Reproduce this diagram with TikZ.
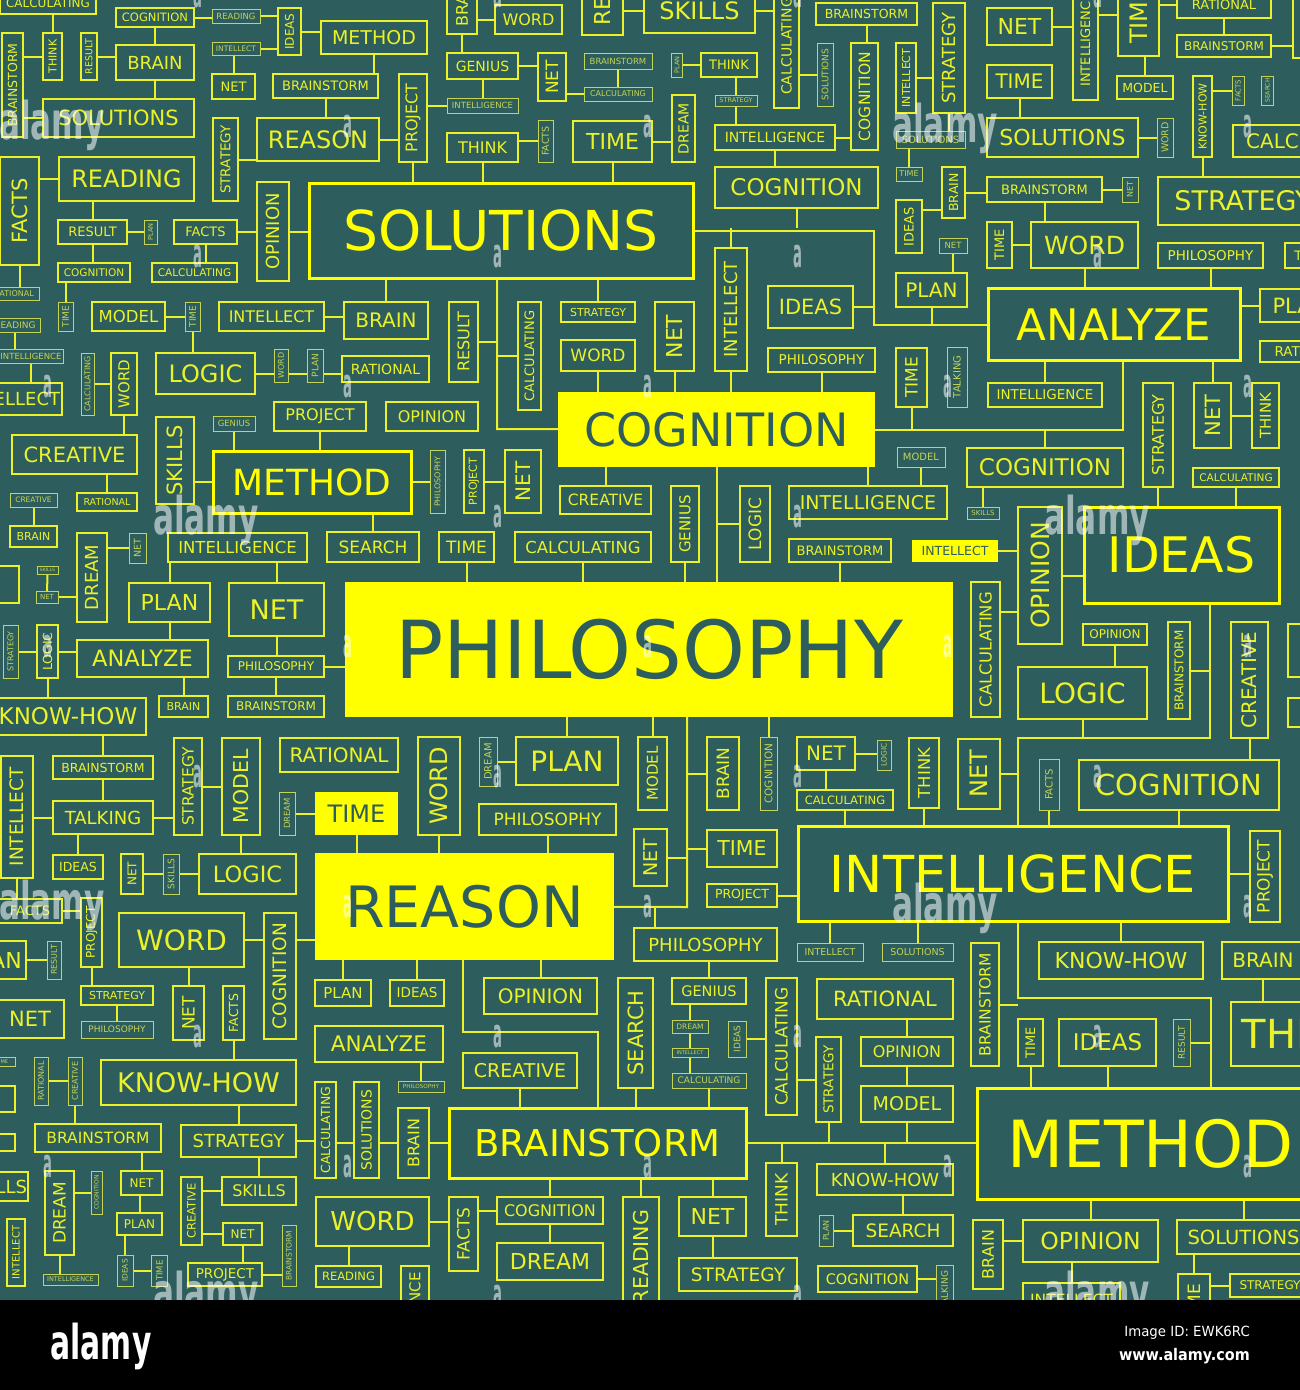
\documentclass[tikz,border=0pt]{standalone}
\usepackage{fontspec}
\setmainfont{DejaVu Sans}
\usepackage{tikz}
\definecolor{bg}{RGB}{45,93,93}
\definecolor{hiyel}{RGB}{255,255,0}
\definecolor{wline}{RGB}{236,242,40}
\definecolor{wdim}{RGB}{196,212,86}
\newcommand{\wsize}[1]{\fontsize{#1}{#1}\selectfont}
\pgfdeclarelayer{back}
\pgfdeclarelayer{links}
\pgfdeclarelayer{front}
\pgfsetlayers{back,links,main,front}
\tikzset{
  wordbox/.style = {draw=wline, fill=bg, text=wline, inner sep=0pt, outer sep=0pt},
  bigw/.style n args = {3}{wordbox, draw=hiyel, text=hiyel, line width=3pt,
    minimum width=#1, minimum height=#2, font=\wsize{#3}},
  midw/.style n args = {3}{wordbox, line width=2.2pt,
    minimum width=#1, minimum height=#2, font=\wsize{#3}},
  smw/.style n args = {3}{wordbox, line width=1.6pt,
    minimum width=#1, minimum height=#2, font=\wsize{#3}},
  tinyw/.style n args = {3}{wordbox, draw=wdim, text=wdim, line width=1pt,
    minimum width=#1, minimum height=#2, font=\wsize{#3}},
  hiw/.style n args = {3}{fill=hiyel, text=bg, inner sep=0pt, outer sep=0pt,
    minimum width=#1, minimum height=#2, font=\wsize{#3}},
  upw/.style = {rotate=90},
  wire/.style = {draw=wline, line width=2pt},
  wmark/.style = {text=white, text opacity=0.55, inner sep=0pt,
    font=\bfseries\wsize{52}, xscale=0.6},
  wsmall/.style = {wmark, font=\bfseries\wsize{40}, xscale=0.55}
}

\begin{document}
\begin{tikzpicture}[x=1pt, y=-1pt]
  \useasboundingbox (0,0) rectangle (1300,1390);
  \begin{pgfonlayer}{back}
    \fill[bg] (0,0) rectangle (1300,1300);
  \end{pgfonlayer}

  % top band
  \node[smw={96}{22}{12}] (calcA) at (48,3) {CALCULATING};
  \node[smw={78}{19}{11.5}] (cogA) at (155,17.5) {COGNITION};
  \node[tinyw={48}{14}{8.5}] (readA) at (236,16) {READING};
  \node[smw={47}{23}{12}, upw] (ideasA) at (289.5,31.5) {IDEAS};
  \node[tinyw={48}{13}{7.5}] (intelA) at (236,48.5) {INTELLECT};
  \node[smw={43}{25}{13}] (netA) at (233.5,86.5) {NET};
  \node[midw={78}{35}{18}] (brainA) at (155,62.5) {BRAIN};
  \node[smw={47}{19}{11}, upw] (thinkA) at (52.5,56.5) {THINK};
  \node[smw={47}{16}{9.5}, upw] (resultA) at (89,56.5) {RESULT};
  \node[smw={104}{21}{12.5}, upw] (bstormA) at (12.5,85) {BRAINSTORM};
  \node[midw={151}{38}{21}] (solA) at (118.5,118) {SOLUTIONS};
  \node[midw={106}{33}{19}] (methodA) at (374,37.5) {METHOD};
  \node[smw={105}{24}{13}] (bstormB) at (325.5,86) {BRAINSTORM};
  \node[midw={122}{43}{24}] (reasonA) at (318,139.5) {REASON};
  \node[smw={83}{25}{13.5}, upw] (stratA) at (225.5,159.5) {STRATEGY};
  \node[midw={88}{28}{16}, upw] (projA) at (413,118) {PROJECT};
  \node[smw={64}{30}{16}, upw] (brainB) at (462,2) {BRAIN};
  \node[smw={67}{29}{16}] (wordA) at (528.5,19.5) {WORD};
  \node[smw={71}{26}{14}] (geniusA) at (482.5,66) {GENIUS};
  \node[midw={48}{28}{17}, upw] (netB) at (552,77) {NET};
  \node[tinyw={68}{16}{8.5}] (bstormC) at (618,61) {BRAINSTORM};
  \node[tinyw={68}{14}{8}] (calcB) at (618,94) {CALCULATING};
  \node[tinyw={24}{11}{6.5}, upw] (planA) at (677,65) {PLAN};
  \node[tinyw={71}{15}{8.5}] (intgA) at (482.5,105.5) {INTELLIGENCE};
  \node[smw={71}{29}{16}] (thinkB) at (482.5,147.5) {THINK};
  \node[tinyw={42}{15}{9.5}, upw] (factsA) at (545.5,141) {FACTS};
  \node[midw={79}{41}{22}] (timeA) at (612.5,141.5) {TIME};
  \node[smw={67}{23}{14}, upw] (dreamA) at (683.5,128.5) {DREAM};
  \node[midw={110}{41}{22}, upw] (reasonB) at (602.5,-20) {REASON};
  \node[midw={111}{44}{24}] (skillsA) at (699.5,11) {SKILLS};
  \node[smw={124}{25}{14}, upw] (calcC) at (786.5,46) {CALCULATING};
  \node[smw={101}{22}{12.5}] (bstormD) at (866.5,14) {BRAINSTORM};
  \node[smw={56}{24}{13}] (thinkC) at (729,65) {THINK};
  \node[tinyw={42}{11}{6.5}] (stratB) at (736,100.5) {STRATEGY};
  \node[tinyw={63}{16}{9}, upw] (solB) at (825,74.5) {SOLUTIONS};
  \node[smw={107}{27}{15.5}, upw] (cogB) at (864.5,96.5) {COGNITION};
  \node[smw={120}{25}{14}] (intgB) at (775,137.5) {INTELLIGENCE};
  \node[midw={163}{41}{23}] (cogC) at (796.5,187.5) {COGNITION};
  \node[smw={70}{20}{11}, upw] (intelB) at (906,78) {INTELLECT};
  \node[midw={110}{32}{18}, upw] (stratC) at (949,58) {STRATEGY};
  \node[tinyw={69}{17}{10}] (solC) at (930.5,139.5) {SOLUTIONS};
  \node[tinyw={26}{14}{8}] (timeB) at (909,174) {TIME};
  \node[midw={65}{37}{22}] (netC) at (1019.5,26.5) {NET};
  \node[midw={65}{33}{20}] (timeC) at (1019.5,81.5) {TIME};
  \node[midw={151}{39}{22}] (solD) at (1062.5,137.5) {SOLUTIONS};
  \node[tinyw={39}{16}{9.5}, upw] (wordB) at (1165,137.5) {WORD};
  \node[smw={120}{25}{13}, upw] (intgC) at (1085.5,40) {INTELLIGENCE};
  \node[midw={82}{41}{24}, upw] (timeD) at (1138.5,15) {TIME};
  \node[smw={94}{26}{13}] (ratA) at (1224,5) {RATIONAL};
  \node[smw={94}{22}{12}] (bstormE) at (1224,46) {BRAINSTORM};
  \node[smw={56}{23}{12.5}] (modelA) at (1145,87.5) {MODEL};
  \node[smw={81}{19}{11}, upw] (knowA) at (1202.5,116.5) {KNOW-HOW};
  \node[tinyw={29}{12}{7}, upw] (factsB) at (1238,90.5) {FACTS};
  \node[tinyw={29}{12}{6}, upw] (searchA) at (1267.5,90.5) {SEARCH};
  \node[smw={60}{24}{12}, upw] (geniusB) at (1305,28) {GENIUS};
  \node[midw={166}{32}{20}] (calcD) at (1316,141) {CALCULATING};
  \node[midw={170}{48}{27}] (stratD) at (1243,201) {STRATEGY};
  \node[smw={115}{25}{13}] (bstormF) at (1044.5,189.5) {BRAINSTORM};
  \node[tinyw={25}{16}{8}, upw] (netD) at (1130,189.5) {NET};
  \node[smw={51}{23}{12.5}, upw] (brainC) at (953.5,192.5) {BRAIN};
  \node[smw={53}{26}{13}, upw] (ideasB) at (909,226.5) {IDEAS};
  \node[smw={46}{25}{13}, upw] (timeE) at (999.5,245) {TIME};
  \node[midw={107}{46}{25}] (wordC) at (1084.5,245) {WORD};
  \node[tinyw={28}{15}{8.5}] (netE) at (953,245.5) {NET};
  \node[midw={71}{34}{20}] (planB) at (931.5,290) {PLAN};
  \node[smw={105}{25}{13.5}] (philoA) at (1210.5,255.5) {PHILOSOPHY};
  \node[smw={50}{25}{13}] (timeF) at (1310,255.5) {TIME};

  % left column
  \node[midw={108}{39}{21}, upw] (factsC) at (19.5,211) {FACTS};
  \node[midw={135}{44}{24}] (readC) at (126.5,179) {READING};
  \node[smw={69}{24}{13}] (resultC) at (92.5,232) {RESULT};
  \node[tinyw={24}{13}{6.5}, upw] (planF) at (150.5,232) {PLAN};
  \node[smw={63}{24}{13}] (factsD) at (205.5,232) {FACTS};
  \node[midw={99}{32}{18}, upw] (opinD) at (273,231.5) {OPINION};
  \node[smw={85}{19}{10.5}] (calcJ) at (194.5,272.5) {CALCULATING};
  \node[smw={72}{19}{10.5}] (cogF) at (94,272.5) {COGNITION};
  \node[tinyw={50}{13}{8}] (ratE) at (14,293.5) {RATIONAL};
  \node[tinyw={50}{14}{9}] (readB) at (15,325) {READING};
  \node[tinyw={29}{15}{9}, upw] (timeG) at (65.5,316.5) {TIME};
  \node[midw={73}{29}{16.5}] (modelB) at (128.5,316.5) {MODEL};
  \node[tinyw={29}{15}{9}, upw] (timeH) at (192.5,316.5) {TIME};
  \node[midw={105}{29}{16}] (intelC) at (271.5,316.5) {INTELLECT};
  \node[tinyw={64}{14}{8.5}] (intgE) at (31,356) {INTELLIGENCE};
  \node[midw={100}{32}{18}] (intelD) at (12,399) {INTELLECT};
  \node[tinyw={62}{13}{8}, upw] (calcG) at (87.5,384) {CALCULATING};
  \node[smw={62}{26}{15}, upw] (wordD) at (124,384) {WORD};
  \node[midw={99}{41}{24}] (logicB) at (205.5,373.5) {LOGIC};
  \node[tinyw={33}{14}{8}, upw] (wordE) at (281,365.5) {WORD};
  \node[tinyw={33}{16}{9}, upw] (planD) at (315,365.5) {PLAN};
  \node[midw={125}{39}{21}] (creatB) at (74.5,454.5) {CREATIVE};
  \node[midw={87}{38}{21}, upw] (skillsC) at (175,460.5) {SKILLS};
  \node[tinyw={42}{15}{8.5}] (geniusC) at (234,423.5) {GENIUS};
  \node[bigw={198}{62}{36}] (methodB) at (312,482) {METHOD};
  \node[tinyw={47}{14}{7.5}] (creatC) at (33.5,500) {CREATIVE};
  \node[smw={60}{18}{9.5}] (ratC) at (107,502) {RATIONAL};
  \node[smw={47}{21}{11}] (brainD) at (33.5,536.5) {BRAIN};
  \node[midw={89}{30}{18}, upw] (dreamB) at (92,577.5) {DREAM};
  \node[tinyw={30}{17}{9.5}, upw] (netG) at (137.5,548) {NET};
  \node[tinyw={21}{8}{4.5}] (skillsD) at (47.5,570) {SKILLS};
  \node[tinyw={22}{12}{7}] (netH) at (47,597) {NET};
  \node[smw={40}{37}{12}] (edgeC) at (-1,584.5) {};
  \node[smw={139}{29}{16.5}] (intgF) at (237.5,547.5) {INTELLIGENCE};
  \node[midw={81}{39}{22}] (planE) at (169.5,602.5) {PLAN};
  \node[midw={95}{53}{27}] (netI) at (276.5,609.5) {NET};
  \node[tinyw={53}{15}{8}, upw] (stratF) at (10.5,651.5) {STRATEGY};
  \node[smw={53}{21}{12.5}, upw] (logicC) at (47.5,651.5) {LOGIC};
  \node[midw={131}{37}{22.5}] (analyzeB) at (142.5,658.5) {ANALYZE};
  \node[smw={96}{21}{12}] (philoB) at (276,666.5) {PHILOSOPHY};
  \node[smw={49}{21}{11}] (brainE) at (183.5,706.5) {BRAIN};
  \node[smw={96}{21}{12}] (bstormH) at (276,706.5) {BRAINSTORM};
  \node[midw={156}{37}{23}] (knowB) at (68,716.5) {KNOW-HOW};

  % centre
  \node[bigw={384}{95}{55}] (solE) at (501,230.5) {SOLUTIONS};
  \node[midw={84}{37}{20}] (brainF) at (386,320.5) {BRAIN};
  \node[midw={80}{29}{16}, upw] (resultB) at (463.5,342) {RESULT};
  \node[smw={108}{23}{13}, upw] (calcH) at (529.5,356) {CALCULATING};
  \node[smw={74}{20}{11}] (stratG) at (598,312) {STRATEGY};
  \node[smw={74}{31}{17}] (wordF) at (598,355.5) {WORD};
  \node[midw={69}{39}{22}, upw] (netJ) at (674.5,336.5) {NET};
  \node[midw={123}{32}{18}, upw] (intelE) at (731,309.5) {INTELLECT};
  \node[midw={85}{42}{21}] (ideasD) at (810.5,307) {IDEAS};
  \node[smw={107}{24}{13.5}] (philoC) at (821.5,360) {PHILOSOPHY};
  \node[smw={59}{31}{17}, upw] (timeI) at (911.5,377.5) {TIME};
  \node[tinyw={60}{20}{10}, upw] (talkA) at (957,377) {TALKING};
  \node[smw={87}{26}{14}] (ratD) at (385.5,369) {RATIONAL};
  \node[smw={92}{29}{16}] (projB) at (320,416.5) {PROJECT};
  \node[smw={92}{29}{16}] (opinC) at (432,416.5) {OPINION};
  \node[tinyw={63}{15}{8}, upw] (philoD) at (437.5,481.5) {PHILOSOPHY};
  \node[smw={63}{20}{11}, upw] (projC) at (474,481.5) {PROJECT};
  \node[midw={63}{36}{20}, upw] (netK) at (523,481.5) {NET};
  \node[hiw={317}{75}{46}] (cogE) at (716.5,429.5) {COGNITION};
  \node[smw={91}{28}{15.5}] (creatD) at (605.5,500) {CREATIVE};
  \node[smw={76}{28}{15}, upw] (geniusD) at (685,524) {GENIUS};
  \node[smw={76}{30}{17}, upw] (logicD) at (755,524) {LOGIC};
  \node[midw={158}{33}{19}] (intgG) at (868,502.5) {INTELLIGENCE};
  \node[tinyw={48}{20}{10}] (modelC) at (921,457) {MODEL};
  \node[smw={102}{23}{13}] (bstormI) at (840,550.5) {BRAINSTORM};
  \node[hiw={86}{22}{12.5}] (intelF) at (955,551) {INTELLECT};
  \node[smw={92}{30}{17}] (searchB) at (373,547) {SEARCH};
  \node[smw={55}{30}{17}] (timeJ) at (466.5,547) {TIME};
  \node[smw={136}{30}{16.5}] (calcI) at (583,547) {CALCULATING};
  \node[hiw={608}{135}{80}] (philoE) at (649,649.5) {PHILOSOPHY};

  % right column
  \node[bigw={252}{72}{43.5}] (analyzeA) at (1114,324.5) {ANALYZE};
  \node[midw={80}{33}{21}] (planC) at (1300,305.5) {PLAN};
  \node[smw={96}{21}{13.5}] (ratB) at (1308,351.5) {RATIONAL};
  \node[smw={114}{24}{13.5}] (intgD) at (1045,395) {INTELLIGENCE};
  \node[smw={104}{30}{16}, upw] (stratE) at (1158,435) {STRATEGY};
  \node[midw={65}{37}{21}, upw] (netF) at (1212.5,415.5) {NET};
  \node[smw={65}{27}{15}, upw] (thinkD) at (1265.5,415.5) {THINK};
  \node[midw={156}{39}{23}] (cogD) at (1045,467.5) {COGNITION};
  \node[smw={86}{19}{10.5}] (calcE) at (1236,477.5) {CALCULATING};
  \node[tinyw={32}{12}{7}] (skillsB) at (983,513) {SKILLS};
  \node[midw={137}{44}{25}, upw] (opinA) at (1040,575.5) {OPINION};
  \node[bigw={195}{96}{49}] (ideasC) at (1181.5,555) {IDEAS};
  \node[smw={135}{29}{16.5}, upw] (calcF) at (985.5,649.5) {CALCULATING};
  \node[smw={64}{21}{12}] (opinB) at (1115,634.5) {OPINION};
  \node[midw={129}{52}{28}] (logicA) at (1082.5,693) {LOGIC};
  \node[smw={97}{22}{12}, upw] (bstormG) at (1179,670.5) {BRAINSTORM};
  \node[midw={116}{37}{20}, upw] (creatA) at (1249.5,680) {CREATIVE};
  \node[smw={40}{53}{12}] (edgeA) at (1308,650.5) {};
  \node[smw={40}{29}{12}] (edgeB) at (1308,712.5) {};

  % below PHILOSOPHY
  \node[midw={118}{34}{20}] (ratF) at (339,755) {RATIONAL};
  \node[hiw={83}{43}{24}] (timeK) at (356.5,813.5) {TIME};
  \node[midw={98}{42}{24}, upw] (wordG) at (439,786) {WORD};
  \node[tinyw={49}{18}{10}, upw] (dreamC) at (488,761.5) {DREAM};
  \node[midw={102}{48}{28}] (planG) at (567,761) {PLAN};
  \node[smw={137}{31}{17}] (philoF) at (547.5,819.5) {PHILOSOPHY};
  \node[smw={73}{29}{15}, upw] (modelD) at (652.5,773.5) {MODEL};
  \node[smw={73}{32}{17}, upw] (brainG) at (723,773.5) {BRAIN};
  \node[tinyw={73}{17}{10.5}, upw] (cogG) at (768.5,773.5) {COGNITION};
  \node[smw={58}{33}{20}] (netL) at (826,753.5) {NET};
  \node[smw={96}{20}{11.5}] (calcK) at (845,800) {CALCULATING};
  \node[tinyw={30}{14}{7.5}, upw] (logicE) at (884,755) {LOGIC};
  \node[smw={70}{30}{16.5}, upw] (thinkE) at (924,773) {THINK};
  \node[midw={70}{42}{24}, upw] (netM) at (979,774) {NET};
  \node[smw={57}{33}{19}, upw] (netN) at (650.5,857.5) {NET};
  \node[smw={70}{37}{20.5}] (timeL) at (742,848.5) {TIME};
  \node[smw={70}{23}{12.5}] (projD) at (742,895.5) {PROJECT};
  \node[smw={143}{33}{18}] (philoG) at (705.5,944.5) {PHILOSOPHY};
  \node[tinyw={66}{18}{9.5}] (intelG) at (830,952) {INTELLECT};
  \node[tinyw={71}{18}{9.5}] (solF) at (917.5,952) {SOLUTIONS};
  \node[hiw={299}{107}{57}] (reasonC) at (464.5,906.5) {REASON};
  \node[smw={56}{26}{15}] (planH) at (343,993) {PLAN};
  \node[smw={54}{26}{13.5}] (ideasE) at (417,993) {IDEAS};
  \node[midw={113}{36}{20}] (opinE) at (540.5,996) {OPINION};
  \node[midw={128}{36}{21.5}] (analyzeC) at (379,1044) {ANALYZE};
  \node[midw={114}{35}{19}] (creatE) at (520,1070.5) {CREATIVE};
  \node[tinyw={46}{11}{5.7}] (philoH) at (421,1086.5) {PHILOSOPHY};
  \node[midw={110}{35}{21}, upw] (searchC) at (635.5,1033) {SEARCH};
  \node[smw={74}{26}{14.5}] (geniusE) at (709,991) {GENIUS};
  \node[tinyw={36}{13}{7.5}] (dreamD) at (690,1026.5) {DREAM};
  \node[tinyw={36}{9}{5}] (intelH) at (690,1052.5) {INTELLECT};
  \node[tinyw={74}{15}{9}] (calcL) at (709,1080.5) {CALCULATING};
  \node[tinyw={36}{18}{9}, upw] (ideasF) at (737,1039) {IDEAS};
  \node[smw={137}{31}{17}, upw] (calcM) at (781.5,1046.5) {CALCULATING};

  % lower right
  \node[tinyw={51}{20}{10}, upw] (factsE) at (1049,784.5) {FACTS};
  \node[midw={200}{50}{29}] (cogH) at (1179,785) {COGNITION};
  \node[bigw={430}{95}{51}] (intgH) at (1013,873.5) {INTELLIGENCE};
  \node[smw={91}{30}{17}, upw] (projE) at (1265,876.5) {PROJECT};
  \node[smw={123}{28}{15.5}, upw] (bstormJ) at (985,1004.5) {BRAINSTORM};
  \node[midw={164}{37}{22}] (knowC) at (1121,960.5) {KNOW-HOW};
  \node[midw={82}{37}{20}] (brainH) at (1263,960.5) {BRAIN};
  \node[midw={136}{40}{21}] (ratG) at (885,999) {RATIONAL};
  \node[smw={92}{29}{16}] (opinF) at (907,1051.5) {OPINION};
  \node[smw={92}{36}{19}] (modelE) at (907,1104) {MODEL};
  \node[smw={85}{25}{13.5}, upw] (stratH) at (828.5,1079.5) {STRATEGY};
  \node[smw={47}{25}{13}, upw] (timeM) at (1030.5,1042.5) {TIME};
  \node[midw={97}{47}{23}] (ideasG) at (1107.5,1042.5) {IDEAS};
  \node[tinyw={47}{17}{9}, upw] (resultD) at (1181.5,1042.5) {RESULT};
  \node[midw={144}{64}{40}] (thinkF) at (1303,1034) {THINK};
  \node[bigw={347}{111}{65}] (methodC) at (1150.5,1143.5) {METHOD};
  \node[smw={136}{31}{18}] (knowD) at (885,1179.5) {KNOW-HOW};
  \node[smw={100}{31}{18.5}] (searchD) at (903,1230.5) {SEARCH};
  \node[tinyw={31}{14}{8}, upw] (planI) at (826,1230.5) {PLAN};
  \node[smw={73}{31}{17}, upw] (thinkG) at (781.5,1199.5) {THINK};
  \node[smw={99}{26}{14.5}] (cogI) at (867.5,1279) {COGNITION};
  \node[tinyw={50}{17}{9}, upw] (talkB) at (944.5,1290) {TALKING};
  \node[smw={69}{30}{16}, upw] (brainI) at (988,1254.5) {BRAIN};
  \node[midw={135}{42}{23.5}] (opinG) at (1090.5,1241) {OPINION};
  \node[smw={133}{34}{19.5}] (solG) at (1243.5,1237) {SOLUTIONS};
  \node[smw={60}{32}{17}, upw] (timeN) at (1194,1304) {TIME};
  \node[smw={80}{23}{12}] (stratI) at (1270,1285.5) {STRATEGY};
  \node[smw={97}{34}{15.5}] (intelI) at (1071.5,1300) {INTELLECT};

  % bottom middle
  \node[smw={96}{21}{12.5}, upw] (calcN) at (325.5,1130) {CALCULATING};
  \node[smw={96}{25}{14}, upw] (solH) at (366.5,1130) {SOLUTIONS};
  \node[smw={70}{31}{16}, upw] (brainJ) at (413.5,1143) {BRAIN};
  \node[bigw={297}{70}{37}] (bstormK) at (597.5,1143) {BRAINSTORM};
  \node[midw={113}{49}{26}] (wordH) at (372.5,1221.5) {WORD};
  \node[smw={65}{21}{11.5}] (readD) at (348.5,1276.5) {READING};
  \node[smw={120}{28}{15}, upw] (intgI) at (415,1326) {INTELLIGENCE};
  \node[smw={74}{29}{17}, upw] (factsF) at (463.5,1234) {FACTS};
  \node[smw={106}{27}{16}] (cogJ) at (550,1210.5) {COGNITION};
  \node[midw={106}{37}{22}] (dreamE) at (550,1261.5) {DREAM};
  \node[midw={120}{36}{20.5}, upw] (readE) at (641,1257) {READING};
  \node[midw={67}{39}{22}] (netO) at (712.5,1216.5) {NET};
  \node[midw={118}{33}{18.5}] (stratJ) at (738,1274.5) {STRATEGY};

  % bottom left
  \node[smw={100}{23}{12.5}] (bstormL) at (103,767.5) {BRAINSTORM};
  \node[midw={122}{32}{18.5}, upw] (intelJ) at (17,817) {INTELLECT};
  \node[smw={100}{33}{18}] (talkC) at (103,817.5) {TALKING};
  \node[smw={97}{28}{15.5}, upw] (stratK) at (188,786.5) {STRATEGY};
  \node[midw={97}{38}{20.5}, upw] (modelF) at (241,786.5) {MODEL};
  \node[smw={50}{24}{12.5}] (ideasH) at (78,867) {IDEAS};
  \node[smw={40}{22}{12}, upw] (netP) at (132,874) {NET};
  \node[tinyw={40}{16}{9}, upw] (skillsE) at (171,874) {SKILLS};
  \node[midw={97}{40}{22.5}] (logicF) at (247.5,874) {LOGIC};
  \node[tinyw={43}{16}{8.5}, upw] (dreamF) at (287,813.5) {DREAM};
  \node[smw={64}{24}{13}] (factsG) at (30,911) {FACTS};
  \node[smw={69}{21}{12}, upw] (projF) at (91.5,932.5) {PROJECT};
  \node[midw={66}{38}{22}] (planJ) at (-7,960) {PLAN};
  \node[tinyw={38}{14}{8}, upw] (resultE) at (54,960) {RESULT};
  \node[midw={125}{54}{28}] (wordI) at (181.5,940) {WORD};
  \node[midw={126}{32}{18.5}, upw] (cogK) at (280,976) {COGNITION};
  \node[smw={72}{19}{11}] (stratL) at (117,995.5) {STRATEGY};
  \node[tinyw={72}{17}{9}] (philoI) at (117,1029.5) {PHILOSOPHY};
  \node[midw={68}{38}{21}] (netQ) at (30,1019) {NET};
  \node[smw={54}{31}{17}, upw] (netR) at (188.5,1013) {NET};
  \node[smw={54}{21}{12.5}, upw] (factsH) at (233.5,1013) {FACTS};
  \node[midw={195}{45}{27}] (knowE) at (198.5,1082.5) {KNOW-HOW};
  \node[tinyw={26}{9}{5}] (timeO) at (2,1061.5) {TIME};
  \node[smw={30}{26}{12}] (edgeD) at (0,1099) {};
  \node[tinyw={48}{14}{8}, upw] (ratH) at (41,1081) {RATIONAL};
  \node[tinyw={48}{14}{8}, upw] (creatF) at (75,1081) {CREATIVE};
  \node[smw={126}{28}{15.5}] (bstormM) at (98,1138) {BRAINSTORM};
  \node[smw={30}{17}{12}] (edgeE) at (0,1142.5) {};
  \node[smw={115}{32}{18}] (stratM) at (238.5,1141) {STRATEGY};
  \node[smw={74}{28}{16}] (skillsF) at (259,1191) {SKILLS};
  \node[smw={68}{21}{11.5}, upw] (creatG) at (191.5,1211) {CREATIVE};
  \node[smw={39}{22}{12}] (netS) at (242.5,1234) {NET};
  \node[smw={74}{23}{13.5}] (projG) at (225,1274.5) {PROJECT};
  \node[tinyw={61}{14}{7.5}, upw] (bstormN) at (289,1255.5) {BRAINSTORM};
  \node[smw={41}{24}{12}] (netT) at (141.5,1183) {NET};
  \node[smw={45}{22}{12}] (planK) at (139.5,1224) {PLAN};
  \node[tinyw={31}{16}{7.5}, upw] (ideasI) at (125,1270.5) {IDEAS};
  \node[tinyw={31}{16}{8.5}, upw] (timeP) at (159.5,1270.5) {TIME};
  \node[midw={84}{29}{17}, upw] (dreamG) at (59.5,1213) {DREAM};
  \node[tinyw={43}{11}{6}, upw] (cogL) at (96.5,1192.5) {COGNITION};
  \node[tinyw={55}{11}{6.5}] (intgJ) at (70.5,1279.5) {INTELLIGENCE};
  \node[smw={67}{18}{10}, upw] (intelK) at (16,1252.5) {INTELLECT};
  \node[midw={62}{29}{18}] (skillsG) at (-3,1186.5) {SKILLS};

  \coordinate (sj) at (874,228);
  \coordinate (sj2) at (874,325);
  \coordinate (aj) at (1123,443);
  \coordinate (cj) at (497,429);
  \coordinate (bj) at (930,210);
  \coordinate (oj) at (1000,612);
  \coordinate (rj) at (463,1032);
  \coordinate (rr) at (687,907);
  \coordinate (pj) at (655,907);
  \coordinate (ij) at (1018,738);
  \coordinate (ij2) at (1210,738);
  \coordinate (mj1) at (1018,998);
  \coordinate (mj2) at (1211,998);

  \begin{pgfonlayer}{links}
    % top left
    \draw[wire] (cogA) -- (brainA);
    \draw[wire] (brainA) -- (brainA |- solA);
    \draw[wire] (resultA) -- (resultA -| brainA);
    \draw[wire] (thinkA) -- (thinkA -| bstormA);
    \draw[wire] (thinkA) -- (thinkA |- calcA);
    \draw[wire] (solA) -- (solA -| bstormA);
    \draw[wire] (cogA) -- (cogA -| readA);
    \draw[wire] (readA) -- (readA -| ideasA);
    \draw[wire] (intelA) -- (intelA -| ideasA);
    \draw[wire] (netA) -- (netA |- intelA);
    \draw[wire] (ideasA) -- (ideasA -| methodA);
    \draw[wire] (methodA) -- (methodA |- bstormB);
    \draw[wire] (bstormB) -- (bstormB |- reasonA);
    \draw[wire] (reasonA) -- (reasonA -| projA);
    \draw[wire] (stratA) -- (stratA -| reasonA);
    \draw[wire] (readC) -- (readC -| factsC);
    \draw[wire] (resultC) -- (resultC |- readC);
    \draw[wire] (resultC) -- (planF);
    \draw[wire] (resultC) -- (resultC |- cogF);
    \draw[wire] (timeG) -- (timeG |- cogF);
    \draw[wire] (factsD) -- (factsD -| opinD);
    \draw[wire] (factsD) -- (factsD |- calcJ);
    \draw[wire] (opinD) -- (opinD -| solE);
    \draw[wire] (factsC) -- (factsC |- ratE);
    \draw[wire] (modelB) -- (timeH);
    \draw[wire] (timeH) -- (timeH |- logicB);
    \draw[wire] (logicB) -- (logicB -| ratD);
    \draw[wire] (intelC) -- (intelC -| brainF);
    \draw[wire] (calcG) -- (calcG -| wordD);
    \draw[wire] (wordD) -- (wordD |- creatB);
    \draw[wire] (intgE) -- (intgE |- intelD);
    \draw[wire] (readB) -- (readB |- intgE);
    \draw[wire] (ratC) -- (ratC |- creatB);
    \draw[wire] (creatC) -- (brainD);
    \draw[wire] (methodB) -- (methodB -| skillsC);
    \draw[wire] (geniusC) -- (geniusC |- methodB);
    \draw[wire] (projB) -- (projB |- methodB);
    \draw[wire] (methodB) -- (methodB -| philoD);
    \draw[wire] (projC) -- (netK);
    \draw[wire] (searchB) -- (searchB |- methodB);
    \draw[wire] (planE) -- (planE |- intgF);
    \draw[wire] (netI) -- (netI |- intgF);
    \draw[wire] (netG) -- (netG -| dreamB);
    \draw[wire] (netH) -- (netH -| dreamB);
    \draw[wire] (skillsD) -- (netH);
    \draw[wire] (planE) -- (planE |- analyzeB);
    \draw[wire] (logicC) -- (logicC -| analyzeB);
    \draw[wire] (stratF) -- (logicC);
    \draw[wire] (brainE) -- (brainE |- analyzeB);
    \draw[wire] (netI) -- (netI |- philoB);
    \draw[wire] (philoB) -- (bstormH);
    \draw[wire] (philoB) -- (philoB -| philoE);
    \draw[wire] (logicC) -- (logicC |- knowB);
    % bottom left
    \draw[wire] (bstormL) -- (bstormL |- knowB);
    \draw[wire] (bstormL) -- (talkC);
    \draw[wire] (talkC) -- (talkC -| intelJ);
    \draw[wire] (talkC) -- (talkC -| stratK);
    \draw[wire] (stratK) -- (stratK -| modelF);
    \draw[wire] (ideasH) -- (ideasH |- talkC);
    \draw[wire] (modelF) -- (modelF |- logicF);
    \draw[wire] (netP) -- (logicF);
    \draw[wire] (intelJ) -- (intelJ |- factsG);
    \draw[wire] (factsG) -- (factsG -| projF);
    \draw[wire] (projF) -- (projF |- stratL);
    \draw[wire] (stratL) -- (philoI);
    \draw[wire] (planJ) -- (resultE);
    \draw[wire] (wordI) -- (wordI -| reasonC);
    \draw[wire] (netR) -- (netR |- wordI);
    \draw[wire] (factsH) -- (factsH |- knowE);
    \draw[wire] (stratM) -- (stratM |- knowE);
    \draw[wire] (ratH) -- (creatF);
    \draw[wire] (creatF) -- (creatF |- bstormM);
    \draw[wire] (netT) -- (netT |- bstormM);
    \draw[wire] (planK) -- (planK |- netT);
    \draw[wire] (ideasI) -- (ideasI |- planK);
    \draw[wire] (ideasI) -- (timeP);
    \draw[wire] (cogL) -- (cogL -| dreamG);
    \draw[wire] (dreamG) -- (dreamG |- intgJ);
    \draw[wire] (skillsF) -- (skillsF |- stratM);
    \draw[wire] (stratM) -- (stratM -| calcN);
    \draw[wire] (skillsF) -- (skillsF -| creatG);
    \draw[wire] (netS) -- (netS -| creatG);
    \draw[wire] (netS) -- (netS |- projG);
    \draw[wire] (projG) -- (projG -| bstormN);
    % bottom middle
    \draw[wire] (brainJ) -- (brainJ -| calcN);
    \draw[wire] (brainJ) -- (bstormK);
    \draw[wire] (wordH) -- (wordH -| factsF);
    \draw[wire] (cogJ) -- (cogJ -| factsF);
    \draw[wire] (readD) -- (readD |- wordH);
    \draw[wire] (cogJ) -- (dreamE);
    \draw[wire] (cogJ) -- (cogJ |- bstormK);
    \draw[wire] (readE) -- (readE |- bstormK);
    \draw[wire] (netO) -- (netO |- bstormK);
    \draw[wire] (netO) -- (netO |- stratJ);
    \draw[wire] (creatE) -- (creatE |- bstormK);
    \draw[wire] (searchC) -- (searchC |- bstormK);
    \draw[wire] (calcL) -- (calcL |- bstormK);
    \draw[wire] (bstormK) |- (rj) -- (rj |- reasonC);
    \draw[wire] (planH) -- (planH |- reasonC);
    \draw[wire] (ideasE) -- (ideasE |- reasonC);
    \draw[wire] (opinE) -- (opinE |- reasonC);
    \draw[wire] (philoH) -- (philoH |- analyzeC);
    \draw[wire] (dreamD) -- (dreamD |- geniusE);
    \draw[wire] (dreamD) -- (dreamD |- calcL);
    \draw[wire] (ideasF) -- (ideasF -| calcM);
    \draw[wire] (geniusE) -- (geniusE |- philoG);
    \draw[wire] (reasonC) -- (rr) -- (rr |- philoE);
    \draw[wire] (netN) -- (netN -| rr);
    \draw[wire] (timeL) -- (timeL -| rr);
    \draw[wire] (brainG) -- (brainG -| rr);
    \draw[wire] (pj) -- (pj |- philoG);
    \draw[wire] (timeK) -- (timeK |- reasonC);
    \draw[wire] (wordG) -- (wordG |- reasonC);
    \draw[wire] (philoF) -- (philoF |- reasonC);
    \draw[wire] (timeK) -- (timeK -| dreamF);
    \draw[wire] (dreamC) -- (dreamC -| planG);
    \draw[wire] (planG) -- (planG |- philoE);
    \draw[wire] (modelD) -- (modelD |- philoE);
    \draw[wire] (cogG) -- (cogG |- philoE);
    % lower right
    \draw[wire] (netL) -- (netL -| logicE);
    \draw[wire] (netL) -- (netL |- calcK);
    \draw[wire] (calcK) -- (calcK |- intgH);
    \draw[wire] (thinkE) -- (thinkE |- intgH);
    \draw[wire] (ij |- intgH) -- (ij) -- (ij2) -- (ij2 |- ideasC);
    \draw[wire] (netM) -- (netM -| ij);
    \draw[wire] (logicA) -- (logicA |- ij);
    \draw[wire] (bstormG) -- (bstormG -| ij2);
    \draw[wire] (factsE) -- (factsE |- intgH);
    \draw[wire] (cogH) -- (cogH |- intgH);
    \draw[wire] (creatA) -- (creatA |- cogH);
    \draw[wire] (intgH) -- (intgH -| projE);
    \draw[wire] (projD) -- (projD -| intgH);
    \draw[wire] (intelG) -- (intelG |- intgH);
    \draw[wire] (solF) -- (solF |- intgH);
    \draw[wire] (knowC) -- (knowC |- intgH);
    \draw[wire] (mj1 |- intgH) -- (mj1) -- (mj2) -- (mj2 |- methodC);
    \draw[wire] (bstormJ) -- (bstormJ -| mj1);
    \draw[wire] (resultD) -- (resultD -| mj2);
    \draw[wire] (timeM) -- (timeM |- methodC);
    \draw[wire] (ideasG) -- (ideasG |- methodC);
    \draw[wire] (brainH) -- (brainH |- thinkF);
    \draw[wire] (thinkF) -- (thinkF |- methodC);
    \draw[wire] (opinF) -- (opinF |- ratG);
    \draw[wire] (opinF) -- (modelE);
    \draw[wire] (bstormK) -- (bstormK -| methodC);
    \draw[wire] (modelE) -- (modelE |- bstormK);
    \draw[wire] (stratH) -- (stratH |- bstormK);
    \draw[wire] (knowD) -- (knowD |- bstormK);
    \draw[wire] (thinkG) -- (thinkG |- bstormK);
    \draw[wire] (stratH) -- (stratH -| calcM);
    \draw[wire] (searchD) -- (searchD |- knowD);
    \draw[wire] (searchD) -- (planI);
    \draw[wire] (opinG) -- (opinG |- methodC);
    \draw[wire] (solG) -- (solG |- methodC);
    \draw[wire] (opinG) -- (opinG -| brainI);
    \draw[wire] (intelI) -- (intelI |- opinG);
    \draw[wire] (timeN) -- (timeN |- solG);
    \draw[wire] (stratI) -- (stratI -| timeN);
    \draw[wire] (cogI) -- (cogI -| talkB);
    % top right
    \draw[wire] (bstormD) -- (bstormD |- cogB);
    \draw[wire] (solB) -- (solB -| calcC);
    \draw[wire] (skillsA) -- (skillsA -| calcC);
    \draw[wire] (thinkC) -- (thinkC -| planA);
    \draw[wire] (stratB) -- (stratB |- thinkC);
    \draw[wire] (stratB) -- (stratB |- intgB);
    \draw[wire] (intgB) -- (intgB -| cogB);
    \draw[wire] (intgB) -- (intgB |- cogC);
    \draw[wire] (solE) -- (solE -| sj) -- (sj2) -- (sj2 -| analyzeA);
    \draw[wire] (cogC) -- (cogC |- sj);
    \draw[wire] (ideasD) -- (ideasD -| sj);
    \draw[wire] (intelE) -- (intelE |- sj);
    \draw[wire] (intelB) -- (intelB -| stratC);
    \draw[wire] (stratC) -- (stratC |- solC);
    \draw[wire] (timeB) -- (timeB |- solC);
    \draw[wire] (netC) -- (netC -| intgC);
    \draw[wire] (timeC) -- (timeC |- solD);
    \draw[wire] (timeD) -- (timeD -| intgC);
    \draw[wire] (ratA) -- (ratA -| timeD);
    \draw[wire] (modelA) -- (modelA |- timeD);
    \draw[wire] (ratA) -- (bstormE);
    \draw[wire] (bstormE) -- (bstormE -| geniusB);
    \draw[wire] (solD) -- (wordB);
    \draw[wire] (factsB) -- (factsB -| knowA);
    \draw[wire] (knowA) -- (knowA |- stratD);
    \draw[wire] (calcD) -- (calcD |- stratD);
    \draw[wire] (bstormF) -- (netD);
    \draw[wire] (bstormF) -- (bstormF |- wordC);
    \draw[wire] (brainC) -- (brainC -| bstormF);
    \draw[wire] (bj -| ideasB) -- (bj -| brainC);
    \draw[wire] (timeE) -- (wordC);
    \draw[wire] (netE) -- (netE |- planB);
    \draw[wire] (wordC) -- (wordC |- analyzeA);
    \draw[wire] (philoA) -- (philoA |- analyzeA);
    \draw[wire] (planB) -- (planB |- sj2);
    \draw[wire] (cogE) -- (cogE -| aj) -- (aj |- analyzeA);
    \draw[wire] (timeI) -- (timeI |- cogE);
    \draw[wire] (cogD) -- (cogD |- cogE);
    \draw[wire] (intgD) -- (intgD |- analyzeA);
    \draw[wire] (philoC) -- (philoC |- cogE);
    \draw[wire] (netJ) -- (netJ |- cogE);
    \draw[wire] (intelE) -- (intelE |- cogE);
    \draw[wire] (wordF) -- (wordF |- cogE);
    \draw[wire] (stratG) -- (stratG |- solE);
    \draw[wire] (cogE) -- (cj) -- (cj |- solE);
    \draw[wire] (calcH) -- (calcH -| cj);
    \draw[wire] (resultB) -- (resultB -| cj);
    \draw[wire] (brainF) -- (brainF |- solE);
    \draw[wire] (creatD) -- (creatD |- cogE);
    \draw[wire] (cogE) -- (cogE |- philoE);
    \draw[wire] (logicD) -- (logicD -| cogE);
    \draw[wire] (intgG) -- (intgG |- cogE);
    \draw[wire] (modelC) -- (modelC |- intgG);
    \draw[wire] (bstormI) -- (bstormI |- philoE);
    \draw[wire] (intelF) -- (intelF -| opinA);
    \draw[wire] (opinA) -- (opinA -| ideasC);
    \draw[wire] (oj -| calcF) -- (oj -| opinA);
    \draw[wire] (skillsB) -- (skillsB |- cogD);
    \draw[wire] (stratE) -- (stratE |- ideasC);
    \draw[wire] (calcE) -- (calcE |- ideasC);
    \draw[wire] (netF) -- (thinkD);
    \draw[wire] (netF) -- (netF |- analyzeA);
    \draw[wire] (opinB) -- (opinB |- logicA);
    \draw[wire] (planC) -- (planC -| analyzeA);
    \draw[wire] (ratB) -- (ratB |- planC);
    \draw[wire] (timeJ) -- (timeJ |- philoE);
    \draw[wire] (calcI) -- (calcI |- philoE);
    \draw[wire] (geniusD) -- (geniusD |- philoE);
    % top middle
    \draw[wire] (thinkB) -- (thinkB |- solE);
    \draw[wire] (projA) -- (projA |- solE);
    \draw[wire] (timeA) -- (timeA |- solE);
    \draw[wire] (geniusA) -- (intgA);
    \draw[wire] (geniusA) -- (geniusA -| netB);
    \draw[wire] (brainB) -- (brainB |- geniusA);
    \draw[wire] (wordA) -- (wordA -| brainB);
    \draw[wire] (calcB) -- (calcB -| netB);
    \draw[wire] (bstormC) -- (calcB);
    \draw[wire] (intgA) -- (intgA -| projA);
    \draw[wire] (factsA) -- (factsA -| thinkB);
    \draw[wire] (timeA) -- (timeA -| dreamA);
    \draw[wire] (skillsA) -- (skillsA -| reasonB);
  \end{pgfonlayer}

  \begin{pgfonlayer}{front}
    % watermark
    \node[wmark] (wm1) at (52,125) {alamy};
    \node[wmark] (wm2) at (945,128) {alamy};
    \node[wmark] (wm3) at (206,520) {alamy};
    \node[wmark] (wm4) at (1097,520) {alamy};
    \node[wmark] (wm5) at (52,905) {alamy};
    \node[wmark] (wm6) at (945,908) {alamy};
    \node[wmark] (wm7) at (206,1296) {alamy};
    \node[wmark] (wm8) at (1097,1296) {alamy};
    \foreach \y/\xs in {-3/{198,498,798,1098}, 127/{348,648,1248},
        257/{198,498,798,1098}, 387/{48,348,648,948,1248}, 517/{498,798},
        647/{48,348,648,948,1248}, 777/{198,498,798,1098}, 907/{348,648,1248},
        1037/{198,498,798,1098}, 1167/{48,348,648,948,1248}, 1297/{498,798}}
      \foreach \x in \xs
        \node[wsmall] at (\x,\y) {a};
    % stock bar
    \fill[black] (0,1300) rectangle (1300,1390);
    \node[text=white, font=\bfseries\wsize{48}, xscale=0.62, inner sep=0pt]
      (logo) at (101,1346) {alamy};
    \node[text=white, font=\wsize{14}, xscale=0.95, inner sep=0pt, anchor=east]
      (imgid) at (1250,1333) {Image ID: EWK6RC};
    \node[text=white, font=\bfseries\wsize{16}, xscale=0.9, inner sep=0pt, anchor=east]
      (site) at (1250,1356) {www.alamy.com};
  \end{pgfonlayer}
\end{tikzpicture}
\end{document}
